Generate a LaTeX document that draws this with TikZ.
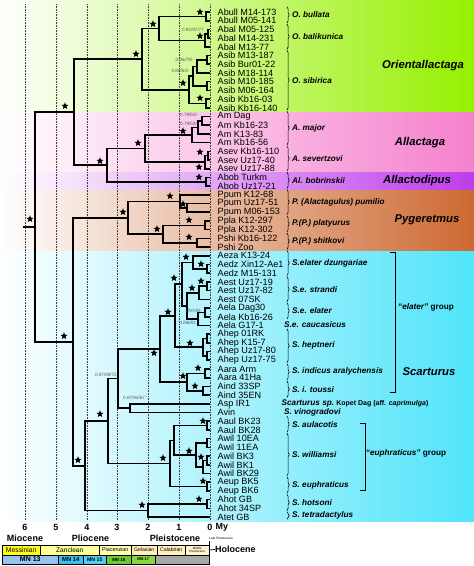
\documentclass[tikz,border=0pt]{standalone}
\usepackage{fontspec}
\setmainfont{Liberation Sans}
\usetikzlibrary{shapes.geometric,decorations.pathreplacing}
\definecolor{cgreen}{RGB}{150,240,0}
\definecolor{cpink}{RGB}{245,128,205}
\definecolor{cpurple}{RGB}{190,60,235}
\definecolor{cbrown}{RGB}{205,105,50}
\definecolor{ccyan}{RGB}{80,228,250}
\definecolor{cMes}{RGB}{255,255,20}
\definecolor{cZan}{RGB}{255,255,150}
\definecolor{cPia}{RGB}{255,255,175}
\definecolor{cGel}{RGB}{255,238,185}
\definecolor{cCal}{RGB}{255,240,190}
\definecolor{cMid}{RGB}{255,242,205}
\definecolor{cMNa}{RGB}{150,195,240}
\definecolor{cMNb}{RGB}{60,190,240}
\definecolor{cMNc}{RGB}{85,205,240}
\definecolor{cMNd}{RGB}{110,200,55}
\definecolor{cMNe}{RGB}{140,212,65}
\definecolor{cMNg}{RGB}{168,168,168}
\newcommand{\spb}[4]{%
 \pgfmathsetmacro{\spya}{12+(#1-1)*8.707-5.3}%
 \pgfmathsetmacro{\spyb}{12+(#2-1)*8.707+2.3}%
 \pgfmathsetmacro{\spym}{(\spya+\spyb)/2}%
 \draw[spbr] (287,\spya) -- (287,\spyb);
 \node[splab] (#4) at (292,\spym) {#3};}
\tikzset{
  br/.style={line width=1.6pt},
  tiplab/.style={anchor=west, inner sep=0pt, font=\fontsize{9.1}{9.1}\selectfont},
  splab/.style={anchor=west, inner sep=0pt, font=\fontsize{8.2}{8.2}\selectfont\bfseries\itshape},
  genlab/.style={inner sep=0pt, font=\fontsize{11.3}{11.3}\selectfont\bfseries\itshape},
  supp/.style={inner sep=0pt, text=black!65, font=\fontsize{4.6}{4.6}\selectfont},
  mystar/.style={star, star points=5, star point ratio=2.4, fill=black, draw=none, inner sep=0pt, minimum size=7.6pt},
  spbr/.style={decorate, decoration={brace, amplitude=2.2pt}, line width=0.6pt},
  gridl/.style={densely dotted, line width=0.6pt, black!75},
  axnum/.style={font=\fontsize{9}{9}\selectfont\bfseries, inner sep=0pt},
  stg/.style={draw=black, line width=0.5pt, anchor=north west, inner sep=0pt, minimum height=9.5pt},
  grpbr/.style={line width=0.9pt},
}
\begin{document}
\begin{tikzpicture}[x=1pt,y=-1pt]
\useasboundingbox (0,0) rectangle (474,566);
\fill[white] (0,0) rectangle (474,566);
% bands
\shade[left color=white, right color=cgreen] (0,0) rectangle (474,112);
\shade[left color=white, right color=cpink] (0,112) rectangle (474,172.5);
\shade[left color=white, right color=cpurple] (0,172.5) rectangle (474,190.5);
\shade[left color=white, right color=cbrown] (0,190.5) rectangle (474,251);
\shade[left color=white, right color=ccyan] (0,251) rectangle (474,521);
% time grid and axis numbers
\foreach \x/\n in {25/6,56/5,87/4,117/3,148/2,179/1,210/0} {
  \node[axnum] (ax\n) at (\x,527) {\n};
  \coordinate (gt\n) at (\x,4);
  \draw[gridl] (gt\n) -- (\x,520);
}
\node[axnum, anchor=west] (axMy) at (215.5,527) {My};
% tips
\foreach \lab [count=\i] in {Abull M14-173, Abull M05-141, Abal M05-125, Abal M14-231, Abal M13-77, Asib M13-187, Asib Bur01-22, Asib M18-114, Asib M10-185, Asib M06-164, Asib Kb16-03, Asib Kb16-140, Am Dag, Am Kb16-23, Am K13-83, Am Kb16-56, Asev Kb16-110, Asev Uz17-40, Asev Uz17-88, Abob Turkm, Abob Uz17-21, Ppum K12-68, Ppum Uz17-51, Ppum M06-153, Ppla K12-297, Ppla K12-302, Pshi Kb16-122, Pshi Zoo, Aeza K13-24, Aedz Xin12-Ae1, Aedz M15-131, Aest Uz17-19, Aest Uz17-82, Aest 07SK, Aela Dag30, Aela Kb16-26, Aela G17-1, Ahep 01RK, Ahep K15-7, Ahep Uz17-80, Ahep Uz17-75, Aara Arm, Aara 41Ha, Aind 33SP, Aind 35EN, Asp IR1, Avin, Aaul BK23, Aaul BK28, Awil 10EA, Awil 11EA, Awil BK3, Awil BK1, Awil BK29, Aeup BK5, Aeup BK6, Ahot GB, Ahot 34SP, Atet GB} {
  \coordinate (t\i) at (210, {12+(\i-1)*8.707});
  \node[tiplab] (L\i) at (217.5, {12+(\i-1)*8.707}) {\lab};
}
% internal nodes
\coordinate (nAbull) at (206,16.35);
\coordinate (nAbal34) at (208,33.75);
\coordinate (nAbal) at (205,40.3);
\coordinate (nBB) at (159,28.3);
\coordinate (nAs67) at (207,59.85);
\coordinate (nAs8) at (197,66.4);
\coordinate (nAs910) at (207,86.05);
\coordinate (nAsC) at (193,76.2);
\coordinate (nAs1112) at (206,103.45);
\coordinate (nAsib) at (189,89.8);
\coordinate (nOri) at (142,59.05);
\coordinate (nAm1314) at (202,120.85);
\coordinate (nAm15) at (198,127.4);
\coordinate (nAm) at (192,135.0);
\coordinate (nAs1718) at (208,155.65);
\coordinate (nAsev) at (205,162.2);
\coordinate (nAlla) at (145,148.6);
\coordinate (nAbob) at (206,181.75);
\coordinate (nAA) at (107,165.2);
\coordinate (nUp) at (74,112.1);
\coordinate (nPp2324) at (187,207.95);
\coordinate (nPpum) at (180,201.4);
\coordinate (nPpla) at (205,225.35);
\coordinate (nPshi) at (197,242.75);
\coordinate (nPP) at (163,234.05);
\coordinate (nPyg) at (128,217.7);
\coordinate (nDz3031) at (207,268.85);
\coordinate (nDz) at (193,262.3);
\coordinate (nSt3233) at (207,286.25);
\coordinate (nSt) at (199,292.8);
\coordinate (nEl3536) at (205,312.45);
\coordinate (nEl) at (198,319.0);
\coordinate (nStEl) at (187,305.9);
\coordinate (nElG) at (182,284.1);
\coordinate (nHe3839) at (207,338.55);
\coordinate (nHe4041) at (207,355.95);
\coordinate (nHep) at (203,347.25);
\coordinate (nEH) at (175,315.7);
\coordinate (nAara) at (205,373.35);
\coordinate (nAind) at (203,390.75);
\coordinate (nInd) at (187,382.05);
\coordinate (nEHI) at (160,348.9);
\coordinate (nAspAvin) at (130,408.15);
\coordinate (nBig) at (118,378.5);
\coordinate (nAaul) at (207,425.65);
\coordinate (nAw5051) at (207,443.05);
\coordinate (nAw5253) at (207,460.45);
\coordinate (nAw54) at (203,467.0);
\coordinate (nAwil) at (196,455.0);
\coordinate (nAA2) at (174,440.3);
\coordinate (nAeup) at (207,486.55);
\coordinate (nEup) at (170,463.4);
\coordinate (nMid) at (108,421.0);
\coordinate (nAhot) at (207,503.95);
\coordinate (nHT) at (148,510.5);
\coordinate (nScar) at (85,465.75);
\coordinate (nLow) at (73,341.7);
\coordinate (nRoot) at (35,226.9);
\coordinate (stub) at (23,226.9);
% branches
\foreach \p/\c in {
 nAbull/t1, nAbull/t2, nAbal34/t3, nAbal34/t4, nAbal/nAbal34, nAbal/t5, nBB/nAbull, nBB/nAbal,
 nAs67/t6, nAs67/t7, nAs8/nAs67, nAs8/t8, nAs910/t9, nAs910/t10, nAsC/nAs8, nAsC/nAs910, nAs1112/t11, nAs1112/t12, nAsib/nAsC, nAsib/nAs1112, nOri/nBB, nOri/nAsib,
 nAm1314/t13, nAm1314/t14, nAm15/nAm1314, nAm15/t15, nAm/nAm15, nAm/t16, nAs1718/t17, nAs1718/t18, nAsev/nAs1718, nAsev/t19, nAlla/nAm, nAlla/nAsev, nAbob/t20, nAbob/t21, nAA/nAlla, nAA/nAbob, nUp/nOri, nUp/nAA,
 nPp2324/t23, nPp2324/t24, nPpum/t22, nPpum/nPp2324, nPpla/t25, nPpla/t26, nPshi/t27, nPshi/t28, nPP/nPpla, nPP/nPshi, nPyg/nPpum, nPyg/nPP,
 nDz3031/t30, nDz3031/t31, nDz/t29, nDz/nDz3031, nSt3233/t32, nSt3233/t33, nSt/nSt3233, nSt/t34, nEl3536/t35, nEl3536/t36, nEl/nEl3536, nEl/t37, nStEl/nSt, nStEl/nEl, nElG/nDz, nElG/nStEl,
 nHe3839/t38, nHe3839/t39, nHe4041/t40, nHe4041/t41, nHep/nHe3839, nHep/nHe4041, nEH/nElG, nEH/nHep,
 nAara/t42, nAara/t43, nAind/t44, nAind/t45, nInd/nAara, nInd/nAind, nEHI/nEH, nEHI/nInd,
 nAspAvin/t46, nAspAvin/t47, nBig/nEHI, nBig/nAspAvin,
 nAaul/t48, nAaul/t49, nAw5051/t50, nAw5051/t51, nAw5253/t52, nAw5253/t53, nAw54/nAw5253, nAw54/t54, nAwil/nAw5051, nAwil/nAw54, nAA2/nAaul, nAA2/nAwil, nAeup/t55, nAeup/t56, nEup/nAA2, nEup/nAeup, nMid/nBig, nMid/nEup,
 nAhot/t57, nAhot/t58, nHT/nAhot, nHT/t59, nScar/nMid, nScar/nHT, nLow/nPyg, nLow/nScar, nRoot/nUp, nRoot/nLow}
 \draw[br] (\p) |- (\c);
\draw[br] (stub) -- (nRoot);
% stars
\foreach \x/\y [count=\i] in {30/219, 65/106, 136/54, 153/24, 200/12, 200/36, 183/83, 200/98,
 100/161, 138/143, 183/131, 200/152, 199/167, 199/177,
 64/336, 123/212, 170/196, 183/204, 157/229, 189/220, 189/237,
 78/460, 100/414, 154/353, 168/312, 174/278, 186/257, 201/264, 201/281, 192/288, 190/343, 183/376, 198/368, 195/386,
 163/458, 203/421, 189/451, 201/457, 203/481, 142/505, 199/499}
 \node[mystar] (s\i) at (\x,\y) {};
% support values
\node[supp, anchor=east] (v1) at (204,30) {0.92/97/77};
\node[supp, anchor=east] (v2) at (194,60) {0.96/79/-};
\node[supp, anchor=east] (v3) at (190,71) {0.88/63/-};
\node[supp, anchor=west] (v4) at (180,115) {0.79/53/-};
\node[supp, anchor=west] (v5) at (180,123.5) {0.79/53/-};
\node[supp, anchor=east] (v6) at (201,311) {1/97/83};
\node[supp, anchor=east] (v7) at (196,323) {1/96/83};
\node[supp, anchor=east] (v8) at (117,375) {0.97/89/72};
\node[supp, anchor=west] (v9) at (123,398) {0.87/94/67};
% species braces
\spb{1}{2}{O. bullata}{sp1}
\spb{3}{5}{O. balikunica}{sp2}
\spb{6}{12}{O. sibirica}{sp3}
\spb{13}{16}{A. major}{sp4}
\spb{17}{19}{A. severtzovi}{sp5}
\spb{20}{21}{Al. bobrinskii}{sp6}
\spb{22}{24}{P. (Alactagulus) pumilio}{sp7}
\spb{25}{26}{P.(P.) platyurus}{sp8}
\spb{27}{28}{P.(P.) shitkovi}{sp9}
\spb{29}{31}{S.elater dzungariae}{sp10}
\spb{32}{34}{S.e. strandi}{sp11}
\spb{35}{36}{S.e. elater}{sp12}
\node[splab] (sp13) at (284,324.5) {S.e. caucasicus};
\spb{38}{41}{S. heptneri}{sp14}
\spb{42}{43}{S. indicus aralychensis}{sp15}
\spb{44}{45}{S. i. toussi}{sp16}
\node[splab] (sp17) at (281.5,403.8) {Scarturus sp.\ {\fontsize{7}{7}\selectfont\upshape Kopet Dag (aff. \itshape caprimulga\upshape)}};
\node[splab] (sp18) at (284,412.5) {S. vinogradovi};
\spb{48}{49}{S. aulacotis}{sp19}
\spb{50}{54}{S. williamsi}{sp20}
\spb{55}{56}{S. euphraticus}{sp21}
\spb{57}{58}{S. hotsoni}{sp22}
\spb{59}{59}{S. tetradactylus}{sp23}
% genus labels
\node[genlab] (gOri) at (423,66) {Orientallactaga};
\node[genlab] (gAll) at (420,143) {Allactaga};
\node[genlab] (gAld) at (417,181) {Allactodipus};
\node[genlab] (gPyg) at (427,220) {Pygeretmus};
\node[genlab] (gSca) at (429,372) {Scarturus};
% group brackets
\coordinate (eA) at (390,252); \coordinate (eB) at (395,252);
\coordinate (eC) at (395,392); \coordinate (eD) at (390,392);
\draw[grpbr] (eA) -- (eB) -- (eC) -- (eD);
\node[splab, anchor=center] (gEl) at (426,307) {``elater''\upshape\ group};
\coordinate (uA) at (360,423); \coordinate (uB) at (365,423);
\coordinate (uC) at (365,490); \coordinate (uD) at (360,490);
\draw[grpbr] (uA) -- (uB) -- (uC) -- (uD);
\node[splab, anchor=center] (gEu) at (406,453) {``euphraticus''\upshape\ group};
% epochs
\node[axnum] (epM) at (25,538) {Miocene};
\node[axnum] (epP) at (90.5,538) {Pliocene};
\node[axnum] (epPl) at (175,538) {Pleistocene};
% stages
\node[stg, fill=cMes, minimum width=38pt, font=\fontsize{6.8}{6.8}\selectfont] (b1) at (2,545) {Messinian};
\node[stg, fill=cZan, minimum width=59pt, font=\fontsize{6.6}{6.6}\selectfont] (b2) at (40,545) {Zanclean};
\node[stg, fill=cPia, minimum width=32pt, font=\fontsize{5.4}{5.4}\selectfont] (b3) at (99,545) {Piacenzian};
\node[stg, fill=cGel, minimum width=26pt, font=\fontsize{5.1}{5.1}\selectfont] (b4) at (131,545) {Gelasian};
\node[stg, fill=cCal, minimum width=28pt, font=\fontsize{5.2}{5.2}\selectfont] (b5) at (157,545) {Calabrian};
\node[stg, fill=cMid, minimum width=24pt, font=\fontsize{3}{3.2}\selectfont, align=center] (b6) at (185,545) {Middle\\Pleistocene};
\node[stg, fill=cMNa, minimum width=56pt, font=\fontsize{7}{7}\selectfont\bfseries] (m1) at (2,554.5) {MN 13};
\node[stg, fill=cMNb, minimum width=25pt, font=\fontsize{5.8}{5.8}\selectfont\bfseries] (m2) at (58,554.5) {MN 14};
\node[stg, fill=cMNc, minimum width=23pt, font=\fontsize{5.2}{5.2}\selectfont\bfseries] (m3) at (83,554.5) {MN 15};
\node[stg, fill=cMNd, minimum width=25pt, font=\fontsize{4.4}{4.4}\selectfont\bfseries] (m4) at (106,554.5) {MN 16};
\node[stg, fill=cMNe, minimum width=24pt, font=\fontsize{4}{4}\selectfont\bfseries] (m5) at (131,554.5) {MN 17};
\node[stg, fill=cMNg, minimum width=54pt] (m6) at (155,554.5) {};
\node[inner sep=0pt, anchor=west, font=\fontsize{3.2}{3.2}\selectfont] (lp) at (209,538) {Late Pleistocene};
\coordinate (lpA) at (209.5,540.5);
\draw[line width=0.4pt] (lpA) -- (b6.north east);
\node[axnum, anchor=west] (holo) at (215,549.5) {Holocene};
\draw[line width=0.7pt] (b6.east) -- (holo.west);
\end{tikzpicture}
\end{document}
